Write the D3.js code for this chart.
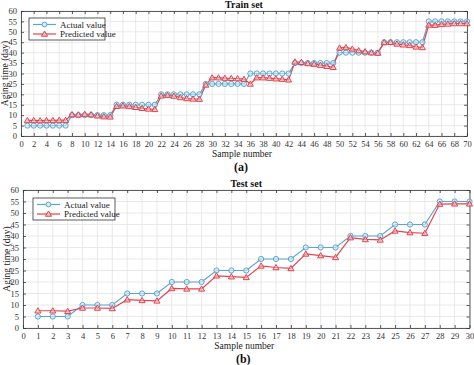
<!DOCTYPE html>
<html>
<head>
<meta charset="utf-8">
<script src="https://cdn.jsdelivr.net/npm/d3@7"></script>
<style>
  body { margin: 0; background: #fff; }
  svg { display: block; font-family: "Liberation Serif", "DejaVu Serif", serif; }
</style>
</head>
<body>
<svg id="chart" width="474" height="365"></svg>
<script>
// train set
const trainActual = [
  5, 5, 5, 5, 5, 5, 5,
  10, 10, 10, 10, 10, 10, 10,
  15, 15, 15, 15, 15, 15, 15,
  20, 20, 20, 20, 20, 20, 20,
  25, 25, 25, 25, 25, 25, 25,
  30, 30, 30, 30, 30, 30, 30,
  35, 35, 35, 35, 35, 35, 35,
  40, 40, 40, 40, 40, 40, 40,
  45, 45, 45, 45, 45, 45, 45,
  55, 55, 55, 55, 55, 55, 55
]
const trainPred = [
  7.5, 7.5, 7.4, 7.5, 7.5, 7.6, 7.6,
  10.3, 10.2, 10.5, 10.3, 9.7, 9.3, 9.2,
  14.3, 14.5, 14.2, 13.8, 13.3, 13.0, 12.8,
  19.3, 19.5, 19.2, 18.5, 18.0, 17.8, 17.7,
  24.5, 28.0, 28.0, 27.8, 27.7, 27.6, 27.3,
  25.0, 28.0, 28.0, 27.8, 27.5, 27.3, 27.0,
  35.6, 35.4, 34.8, 34.5, 34.0, 33.5, 33.0,
  42.3, 42.5, 41.8, 41.0, 40.5, 40.0, 39.8,
  44.9, 45.0, 44.2, 43.8, 43.5, 42.8, 42.5,
  53.3, 53.2, 53.6, 53.8, 54.0, 54.0, 54.0
]
// test set
const testActual = [
  5, 5, 5, 10, 10, 10, 15, 15, 15, 20,
  20, 20, 25, 25, 25, 30, 30, 30, 35, 35,
  35, 40, 40, 40, 45, 45, 45, 55, 55, 55
]
const testPred = [
  7.5, 7.5, 7.3, 8.7, 8.7, 8.5, 12.3, 12.0, 11.8, 17.2,
  17.0, 17.0, 22.7, 22.3, 22.0, 27.0, 26.3, 25.9, 32.2, 31.5,
  30.7, 39.3, 38.5, 38.3, 42.2, 41.5, 41.2, 53.9, 54.0, 54.0
]
const yTicks = d3.range(0, 61, 5)
const trainXTicks = d3.range(0, 71, 2)
const testXTicks = d3.range(0, 31, 1)
const seriesNames = ["Actual value", "Predicted value"]

const blue = "#5aa6cf"
const red = "#e2434f"
const svg = d3.select("#chart")

function drawPanel({title, tag, actual, pred, xMax, xTicks, left, right, top, bottom, legend}) {
  const g = svg.append("g")
  const x = d3.scaleLinear().domain([0, xMax]).range([left, right])
  const y = d3.scaleLinear().domain([0, 60]).range([bottom, top])

  // grid
  g.append("g").selectAll("line").data(xTicks).join("line")
    .attr("x1", d => x(d)).attr("x2", d => x(d))
    .attr("y1", top).attr("y2", bottom)
    .attr("stroke", "#e3e3e3").attr("stroke-width", 0.8)
  g.append("g").selectAll("line").data(yTicks).join("line")
    .attr("x1", left).attr("x2", right)
    .attr("y1", d => y(d)).attr("y2", d => y(d))
    .attr("stroke", "#e3e3e3").attr("stroke-width", 0.8)

  // axes (ticks inward, box style)
  const axes = [
    g.append("g").attr("transform", `translate(0,${bottom})`)
      .call(d3.axisBottom(x).tickValues(xTicks).tickSize(-3).tickPadding(5).tickSizeOuter(0)),
    g.append("g").attr("transform", `translate(0,${top})`)
      .call(d3.axisTop(x).tickValues(xTicks).tickSize(-3).tickFormat("").tickSizeOuter(0)),
    g.append("g").attr("transform", `translate(${left},0)`)
      .call(d3.axisLeft(y).tickValues(yTicks).tickSize(-3).tickPadding(4).tickSizeOuter(0)),
    g.append("g").attr("transform", `translate(${right},0)`)
      .call(d3.axisRight(y).tickValues(yTicks).tickSize(-3).tickFormat("").tickSizeOuter(0))
  ]
  axes.forEach(a => {
    a.attr("font-family", null).attr("font-size", null)
    a.selectAll(".domain, .tick line").attr("stroke", "#333").attr("stroke-width", 0.8)
    a.selectAll(".tick text").attr("fill", "#333").style("font-size", "8.5px")
  })

  const idx = d3.range(1, actual.length + 1)
  const line = d3.line().x((d, i) => x(idx[i])).y(d => y(d))

  g.append("path").datum(actual).attr("d", line)
    .attr("fill", "none").attr("stroke", blue).attr("stroke-width", 1.2)
  g.append("path").datum(pred).attr("d", line)
    .attr("fill", "none").attr("stroke", red).attr("stroke-width", 1.2)

  const tri = d3.symbol().type(d3.symbolTriangle).size(16)
  g.append("g").selectAll("circle").data(actual).join("circle")
    .attr("cx", (d, i) => x(idx[i])).attr("cy", d => y(d)).attr("r", 2.6)
    .attr("fill", "#d8ecf6").attr("fill-opacity", 0.6)
    .attr("stroke", blue).attr("stroke-width", 1)
  g.append("g").selectAll("path").data(pred).join("path")
    .attr("d", tri)
    .attr("transform", (d, i) => `translate(${x(idx[i])},${y(d) + 0.5})`)
    .attr("fill", "#f3c4c8").attr("fill-opacity", 0.6)
    .attr("stroke", red).attr("stroke-width", 1)

  // legend
  const lg = g.append("g").attr("transform", `translate(${legend.x},${legend.y})`)
  lg.append("rect").attr("width", legend.w).attr("height", 22)
    .attr("fill", "#fff").attr("stroke", "#333").attr("stroke-width", 0.8)
  seriesNames.forEach((name, i) => {
    const cy = 6.5 + i * 9.5
    const col = i === 0 ? blue : red
    lg.append("line").attr("x1", 4).attr("x2", 27).attr("y1", cy).attr("y2", cy)
      .attr("stroke", col).attr("stroke-width", 1.2)
    if (i === 0) {
      lg.append("circle").attr("cx", 15.5).attr("cy", cy).attr("r", 2.4)
        .attr("fill", "#d8ecf6").attr("stroke", col)
    } else {
      lg.append("path").attr("d", tri).attr("transform", `translate(15.5,${cy + 0.5})`)
        .attr("fill", "#f3c4c8").attr("stroke", col)
    }
    lg.append("text").attr("x", 31).attr("y", cy + 3).text(name)
      .attr("fill", "#222").style("font-size", "9px")
  })

  // labels
  svg.append("text").attr("x", (left + right) / 2).attr("y", top - 3)
    .attr("text-anchor", "middle").style("font-weight", "bold").style("font-size", "10px")
    .attr("fill", "#111").text(title)
  svg.append("text").attr("x", (left + right) / 2 - 2).attr("y", bottom + 21)
    .attr("text-anchor", "middle").style("font-size", "9.5px").attr("fill", "#222")
    .text("Sample number")
  svg.append("text")
    .attr("transform", `translate(${left - 13},${(top + bottom) / 2}) rotate(-90)`)
    .attr("text-anchor", "middle").style("font-size", "9.5px").attr("fill", "#222")
    .text("Aging time (day)")
  svg.append("text").attr("x", (left + right) / 2 - 3).attr("y", bottom + 35)
    .attr("text-anchor", "middle").style("font-weight", "bold").style("font-size", "12px")
    .attr("fill", "#111").text(tag)
}

drawPanel({
  title: "Train set", tag: "(a)", actual: trainActual, pred: trainPred,
  xMax: 70, xTicks: trainXTicks, left: 21, right: 467, top: 11, bottom: 136,
  legend: {x: 29, y: 18, w: 76}
})
drawPanel({
  title: "Test set", tag: "(b)", actual: testActual, pred: testPred,
  xMax: 30, xTicks: testXTicks, left: 23, right: 469.5, top: 190, bottom: 328,
  legend: {x: 33, y: 198, w: 82}
})
</script>
</body>
</html>
